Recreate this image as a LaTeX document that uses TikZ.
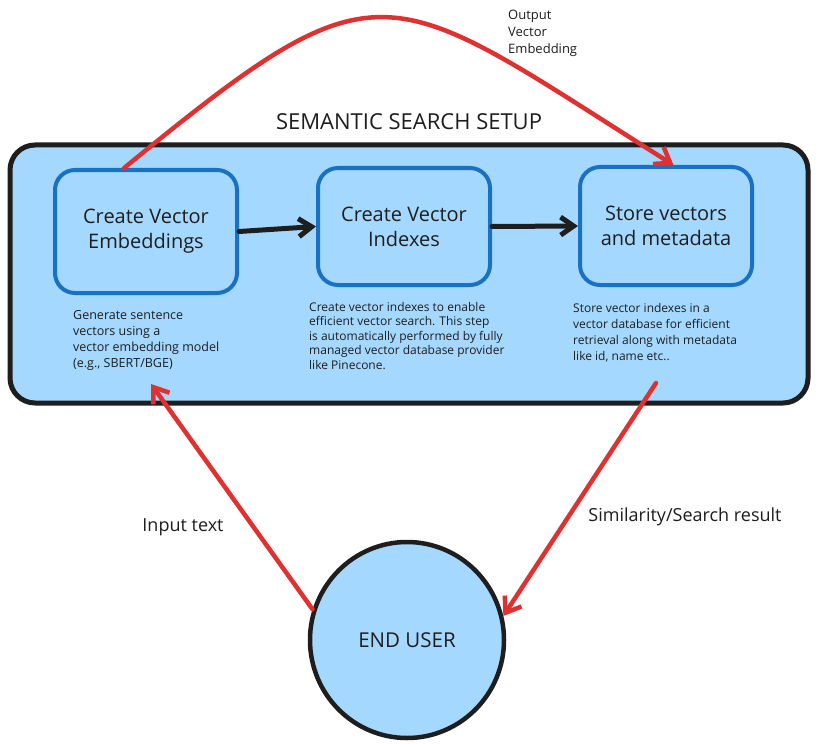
\documentclass[tikz,border=0pt]{standalone}
\usepackage{fontspec}
\setmainfont{Open Sans}
\usetikzlibrary{arrows.meta,shapes.geometric}
\definecolor{fillblue}{HTML}{A5D8FF}
\definecolor{strokeblue}{HTML}{1971C2}
\definecolor{redline}{HTML}{E03131}
\definecolor{ink}{HTML}{1E1E1E}
\begin{document}
\begin{tikzpicture}[x=1pt,y=-1pt,
  container/.style={draw=ink, line width=5pt, fill=fillblue, rounded corners=25pt,
    minimum width=798pt, minimum height=258pt, inner sep=0pt},
  stepbox/.style={draw=strokeblue, line width=4pt, rounded corners=20pt, inner sep=0pt,
    align=center, text=ink, font=\fontsize{20}{25}\selectfont},
  desc/.style={anchor=north west, inner sep=0pt, align=left, text=ink},
  lbl/.style={inner sep=0pt, text=ink},
  userstyle/.style={ellipse, draw=ink, line width=4.5pt, fill=fillblue, inner sep=0pt,
    minimum width=194pt, minimum height=196pt, text=ink, font=\fontsize{20.5}{24}\selectfont},
  blackarrow/.style={draw=ink, line width=5pt, line cap=round,
    -{Straight Barb[length=13pt,width=18pt]}},
  redarrow/.style={draw=redline, line width=4.5pt, line cap=round,
    -{Straight Barb[length=14pt,width=20pt]}}
]
\useasboundingbox (0,0) rectangle (818,746);
\fill[white] (0,0) rectangle (818,746);

\node[container] (setup) at (409,274) {};
\node[lbl, font=\fontsize{22}{26}\selectfont] (title) at (409,122) {SEMANTIC SEARCH SETUP};

\node[stepbox, minimum width=182pt, minimum height=123pt] (b1) at (146,231.5) {Create Vector\\Embeddings};
\node[stepbox, minimum width=172pt, minimum height=117pt] (b2) at (404,226.5) {Create Vector\\Indexes};
\node[stepbox, minimum width=172pt, minimum height=118pt] (b3) at (666,226) {Store vectors\\and metadata};

\draw[blackarrow] (b1.east) -- (b2.west);
\draw[blackarrow] (b2.east) -- (b3.west);

\node[desc, font=\fontsize{12.5}{16}\selectfont] (d1) at (73,310) {Generate sentence\\vectors using a\\vector embedding model\\(e.g., SBERT/BGE)};
\node[desc, font=\fontsize{12}{14.5}\selectfont] (d2) at (309,302) {Create vector indexes to enable\\efficient vector search. This step\\is automatically performed by fully\\managed vector database provider\\like Pinecone.};
\node[desc, font=\fontsize{12}{16}\selectfont] (d3) at (573,303) {Store vector indexes in a\\vector database for efficient\\retrieval along with metadata\\like id, name etc..};

\node[desc, font=\fontsize{13}{17}\selectfont] (outlbl) at (508,10) {Output\\Vector\\Embedding};

\node[userstyle] (user) at (407,640) {END USER};

\node[lbl, font=\fontsize{18}{21}\selectfont] (inlbl) at (183,527) {Input text};
\node[lbl, font=\fontsize{18}{21}\selectfont] (simlbl) at (685,517) {Similarity/Search result};

\coordinate (inTip) at (151,384);
\coordinate (outStart) at (656,383);

\draw[redarrow] (b1.109) .. controls (385,-46) and (383,-18) .. (b3.83);
\draw[redarrow] (user.162) -- (inTip);
\draw[redarrow] (outStart) -- (user.14);
\end{tikzpicture}
\end{document}
